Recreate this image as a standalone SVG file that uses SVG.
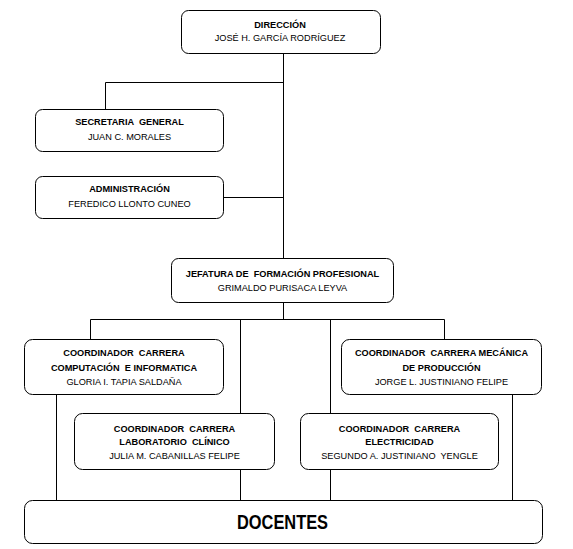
<svg xmlns="http://www.w3.org/2000/svg" width="573" height="549" viewBox="0 0 573 549">
<style>
.box{fill:#fff;stroke:#000;stroke-width:1}
.t{font-family:"Liberation Sans",Arial,sans-serif;font-size:9.2px;text-anchor:middle;fill:#000;white-space:pre}
.b{font-weight:bold}
.big{font-family:"Liberation Sans",Arial,sans-serif;font-size:21px;font-weight:bold;text-anchor:middle;fill:#000}
.ln{fill:none;stroke:#000;stroke-width:1}
</style>
<rect width="573" height="549" fill="#fff"/>
<g id="connectors" class="ln">
<path d="M283.5 53V258"/>
<path d="M105.5 109V82.5H283.5"/>
<path d="M223 197.5H283.5"/>
<path d="M283.5 302V319.5"/>
<path d="M90.5 339V319.5H444.5V339"/>
<path d="M240.5 319.5V413M240.5 469V500"/>
<path d="M330.5 319.5V413M330.5 469V500"/>
<path d="M56.5 394V500"/>
<path d="M512.5 394V500"/>
</g>
<g id="direccion">
<rect class="box" x="181.5" y="10.5" width="199" height="43" rx="7"/>
<text class="t b" x="280" y="28">DIRECCIÓN</text>
<text class="t" x="280" y="41">JOSÉ H. GARCÍA RODRÍGUEZ</text>
</g>
<g id="secretaria">
<rect class="box" x="35.5" y="109.5" width="188" height="42" rx="7"/>
<text class="t b" x="129.5" y="125">SECRETARIA  GENERAL</text>
<text class="t" x="129.5" y="140">JUAN C. MORALES</text>
</g>
<g id="administracion">
<rect class="box" x="35.5" y="176.5" width="188" height="42" rx="7"/>
<text class="t b" x="129.5" y="192">ADMINISTRACIÓN</text>
<text class="t" x="129.5" y="207">FEREDICO LLONTO CUNEO</text>
</g>
<g id="jefatura">
<rect class="box" x="171.5" y="258.5" width="222" height="44" rx="7"/>
<text class="t b" x="282.5" y="277">JEFATURA DE  FORMACIÓN PROFESIONAL</text>
<text class="t" x="282.5" y="291">GRIMALDO PURISACA LEYVA</text>
</g>
<g id="coord-computacion">
<rect class="box" x="24.5" y="339.5" width="199" height="55" rx="8"/>
<text class="t b" x="124" y="356">COORDINADOR  CARRERA</text>
<text class="t b" x="124" y="371">COMPUTACIÓN  E INFORMATICA</text>
<text class="t" x="124" y="385">GLORIA I. TAPIA SALDAÑA</text>
</g>
<g id="coord-mecanica">
<rect class="box" x="341.5" y="339.5" width="200" height="55" rx="8"/>
<text class="t b" x="441.5" y="356">COORDINADOR  CARRERA MECÁNICA</text>
<text class="t b" x="441.5" y="371">DE PRODUCCIÓN</text>
<text class="t" x="441.5" y="385">JORGE L. JUSTINIANO FELIPE</text>
</g>
<g id="coord-laboratorio">
<rect class="box" x="74.5" y="413.5" width="200" height="56" rx="8"/>
<text class="t b" x="174.5" y="432">COORDINADOR  CARRERA</text>
<text class="t b" x="174.5" y="445">LABORATORIO  CLÍNICO</text>
<text class="t" x="174.5" y="459">JULIA M. CABANILLAS FELIPE</text>
</g>
<g id="coord-electricidad">
<rect class="box" x="300.5" y="413.5" width="198" height="56" rx="8"/>
<text class="t b" x="399.5" y="432">COORDINADOR  CARRERA</text>
<text class="t b" x="399.5" y="445">ELECTRICIDAD</text>
<text class="t" x="399.5" y="459">SEGUNDO A. JUSTINIANO  YENGLE</text>
</g>
<g id="docentes">
<rect class="box" x="24.5" y="500.5" width="518" height="43" rx="8"/>
<text class="big" x="282.5" y="529" textLength="91" lengthAdjust="spacingAndGlyphs">DOCENTES</text>
</g>
</svg>
